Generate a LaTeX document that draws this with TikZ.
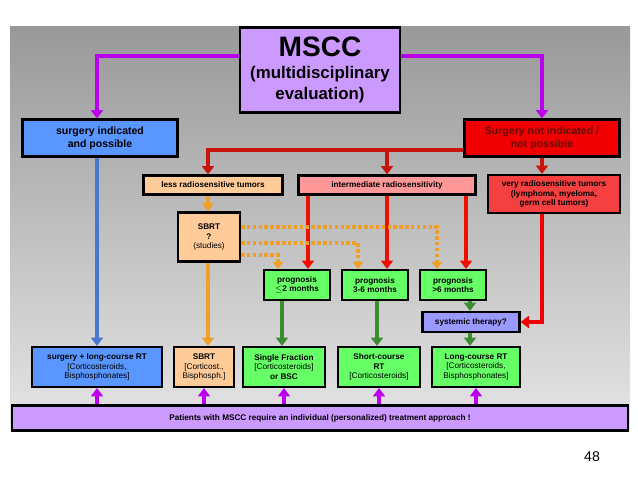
\documentclass[tikz,border=0pt]{standalone}
\usepackage{fontspec}
\setmainfont{Liberation Sans}
\usetikzlibrary{arrows.meta}
\definecolor{mpurple}{RGB}{204,153,255}
\definecolor{arrpurple}{RGB}{187,0,238}
\definecolor{mblue}{RGB}{90,150,255}
\definecolor{mred}{RGB}{240,0,0}
\definecolor{darkred}{RGB}{200,20,10}
\definecolor{mpeach}{RGB}{255,204,153}
\definecolor{mpink}{RGB}{255,153,153}
\definecolor{mgreen}{RGB}{102,255,102}
\definecolor{dgreen}{RGB}{60,140,50}
\definecolor{morange}{RGB}{240,160,40}
\definecolor{msys}{RGB}{153,153,255}
\begin{document}
\begin{tikzpicture}[x=0.03cm,y=-0.03cm,
  box/.style={draw=black, line width=1.8pt, align=center, inner sep=1pt, font=\bfseries},
  arr/.style={line width=3pt, -{Triangle[length=7pt,width=10pt]}},
  dotarr/.style={morange, line width=3pt, dotted, -{Triangle[length=6pt,width=9pt]}}]
  % background
  \useasboundingbox (0,0) rectangle (638,478);
  \shade[top color=gray!80, bottom color=gray!20] (10,27) rectangle (630,430);
  % top level
  \node[box, fill=mpurple, minimum width=160*0.03cm, minimum height=85*0.03cm, font=\bfseries\Large] (mscc) at (320,70)
    {{\fontsize{24}{26}\selectfont MSCC}\\(multidisciplinary\\evaluation)};
  \node[box, fill=mblue, minimum width=155*0.03cm, minimum height=37*0.03cm, font=\bfseries\small] (surg) at (100,138) {surgery indicated\\and possible};
  \node[box, fill=mred, text=darkred!50!black, minimum width=155*0.03cm, minimum height=37*0.03cm, font=\bfseries\small] (nosurg) at (542,138) {Surgery not indicated /\\not possible};
  % sensitivity
  \node[box, fill=mpeach, minimum width=139*0.03cm, minimum height=19*0.03cm, font=\bfseries\scriptsize] (less) at (213,185) {less radiosensitive tumors};
  \node[box, fill=mpink, minimum width=177*0.03cm, minimum height=19*0.03cm, font=\bfseries\scriptsize] (inter) at (387,185) {intermediate radiosensitivity};
  \node[box, fill=mred!75, minimum width=132*0.03cm, minimum height=38*0.03cm, font=\bfseries\scriptsize] (very) at (554,194) {very radiosensitive tumors\\(lymphoma, myeloma,\\germ cell tumors)};
  \node[box, fill=mpeach, minimum width=62*0.03cm, minimum height=49*0.03cm, font=\bfseries\scriptsize] (sbrtq) at (209,237) {SBRT\\?\\\mdseries(studies)};
  % prognosis
  \node[box, fill=mgreen, minimum width=66*0.03cm, minimum height=30*0.03cm, font=\bfseries\scriptsize] (p1) at (297,285) {prognosis\\$\leq$2 months};
  \node[box, fill=mgreen, minimum width=66*0.03cm, minimum height=30*0.03cm, font=\bfseries\scriptsize] (p2) at (375,285) {prognosis\\3-6 months};
  \node[box, fill=mgreen, minimum width=66*0.03cm, minimum height=30*0.03cm, font=\bfseries\scriptsize] (p3) at (453,285) {prognosis\\>6 months};
  \node[box, fill=msys, minimum width=97*0.03cm, minimum height=20*0.03cm, font=\bfseries\scriptsize] (sys) at (471,322) {systemic therapy?};
  % treatments
  \node[box, fill=mblue, minimum width=130*0.03cm, minimum height=40*0.03cm, font=\scriptsize] (t1) at (97,367) {\textbf{surgery + long-course RT}\\{}[Corticosteroids,\\Bisphosphonates]};
  \node[box, fill=mpeach, minimum width=60*0.03cm, minimum height=40*0.03cm, font=\scriptsize] (t2) at (204,367) {\textbf{SBRT}\\{}[Corticost.,\\Bisphosph.]};
  \node[box, fill=mgreen, minimum width=82*0.03cm, minimum height=40*0.03cm, font=\scriptsize] (t3) at (284,367) {\textbf{Single Fraction}\\{}[Corticosteroids]\\\textbf{or BSC}};
  \node[box, fill=mgreen, minimum width=82*0.03cm, minimum height=40*0.03cm, font=\scriptsize] (t4) at (379,367) {\textbf{Short-course}\\\textbf{RT}\\{}[Corticosteroids]};
  \node[box, fill=mgreen, minimum width=88*0.03cm, minimum height=40*0.03cm, font=\scriptsize] (t5) at (476,367) {\textbf{Long-course RT}\\{}[Corticosteroids,\\Bisphosphonates]};
  \node[box, fill=mpurple, minimum width=616*0.03cm, minimum height=25*0.03cm, font=\bfseries\scriptsize] (bar) at (320,418) {Patients with MSCC require an individual (personalized) treatment approach !};
  % purple
  \draw[arr, arrpurple] (mscc.west |- 0,56) -| (surg.north -| 97,0);
  \draw[arr, arrpurple] (mscc.east |- 0,56) -| (nosurg.north);
  \foreach \t in {t1,t2,t3,t4,t5}
    \draw[arr, arrpurple] (bar.north -| \t) -- (\t.south);
  % blue
  \draw[arr, mblue!80!black] (surg.south -| 97,0) -- (t1.north);
  % red
  \draw[arr, darkred] (nosurg.west |- 0,150) -| (less.north -| 208,0);
  \draw[arr, darkred] (387,150) -- (inter.north);
  \draw[arr, darkred] (nosurg.south) -- (very.north -| nosurg.south);
  \draw[arr, mred] (very.south -| nosurg.south) |- (sys.east);
  \foreach \x/\p in {308/p1,387/p2,466/p3}
    \draw[arr, mred!90!orange] (inter.south -| \x,0) -- (\p.north -| \x,0);
  % orange
  \draw[arr, morange] (less.south -| 208,0) -- (sbrtq.north -| 208,0);
  \draw[arr, morange] (sbrtq.south -| 208,0) -- (t2.north -| 208,0);
  \draw[dotarr] (sbrtq.east |- 0,227) -| (p3.north -| 437,0);
  \draw[dotarr] (sbrtq.east |- 0,243) -| (p2.north -| 358,0);
  \draw[dotarr] (sbrtq.east |- 0,255) -| (p1.north -| 278,0);
  % green
  \draw[arr, dgreen] (p1.south -| 282,0) -- (t3.north -| 282,0);
  \draw[arr, dgreen] (p2.south -| 377,0) -- (t4.north -| 377,0);
  \draw[arr, dgreen] (p3.south -| 470,0) -- (sys.north -| 470,0);
  \draw[arr, dgreen] (sys.south -| 470,0) -- (t5.north -| 470,0);
  \node[font=\large] (pg) at (592,457) {48};
\end{tikzpicture}
\end{document}
